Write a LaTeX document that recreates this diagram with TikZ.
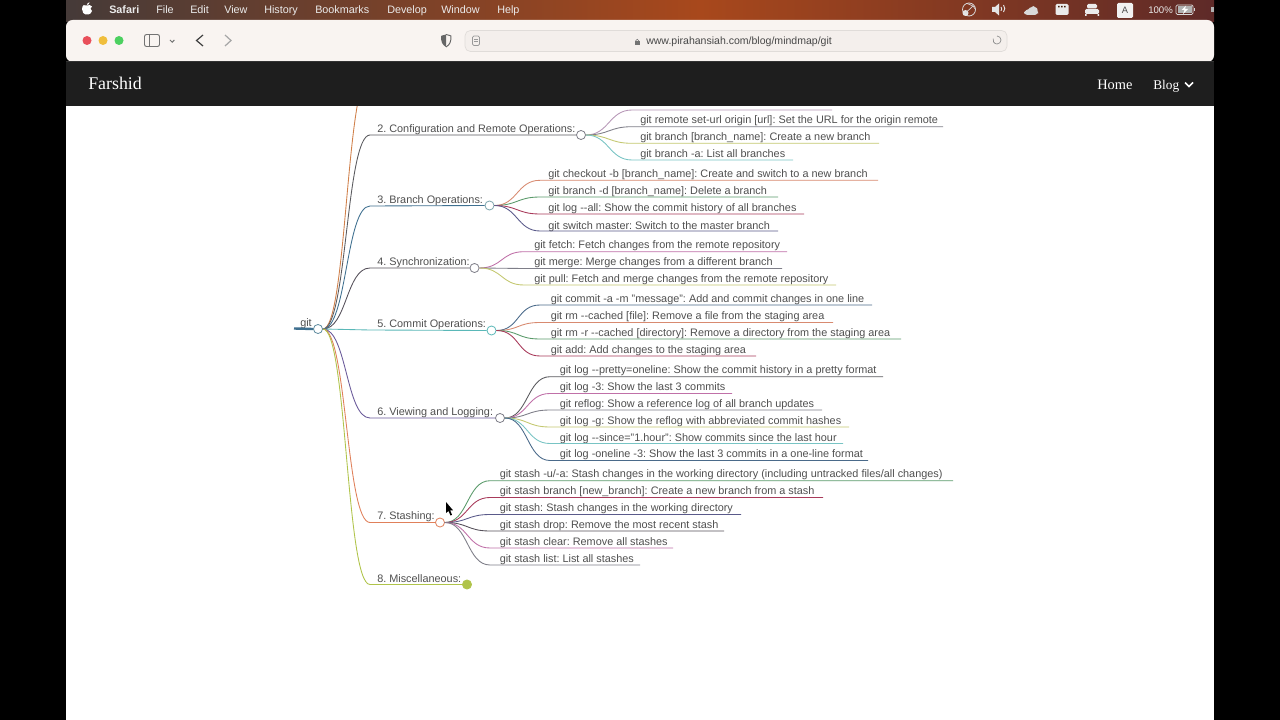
\documentclass[tikz,border=0pt]{standalone}
\usepackage{fontspec}
\setmainfont{Liberation Sans}
\newfontfamily\serifface{Liberation Serif}
\definecolor{textgray}{HTML}{505050}
\definecolor{navdark}{HTML}{1E1E1E}
\definecolor{chrome}{HTML}{F9F4F1}
\definecolor{barA}{HTML}{453A38}
\definecolor{barB}{HTML}{A8481C}
\definecolor{barC}{HTML}{5E2A28}
\definecolor{cA}{HTML}{5A5A5E}
\definecolor{cB}{HTML}{3F7090}
\definecolor{cC}{HTML}{55505A}
\definecolor{cD}{HTML}{5AB8B8}
\definecolor{cE}{HTML}{6A5A9A}
\definecolor{cF}{HTML}{E0805A}
\definecolor{cG}{HTML}{B0C44A}
\definecolor{cH}{HTML}{D0804A}
\definecolor{mauve}{HTML}{B898B8}
\definecolor{graya}{HTML}{7E7E88}
\definecolor{olive}{HTML}{C4C870}
\definecolor{teal}{HTML}{78C4C4}
\definecolor{salmon}{HTML}{D88A70}
\definecolor{leafgreen}{HTML}{5A9A6A}
\definecolor{crimson}{HTML}{A83A5A}
\definecolor{slate}{HTML}{5A5A8A}
\definecolor{pinkish}{HTML}{C070A8}
\definecolor{steel}{HTML}{4A6A8A}
\definecolor{ringblue}{HTML}{5F8CA0}
\definecolor{ringteal}{HTML}{7AA4AC}
\definecolor{lightred}{HTML}{E94F5A}
\definecolor{lightamber}{HTML}{F0BE3C}
\definecolor{lightgreen}{HTML}{4CD060}
\tikzset{
  maptext/.style={anchor=base west,inner sep=0pt,text=textgray,font=\fontsize{8.15pt}{10pt}\selectfont},
  menutext/.style={anchor=base west,inner sep=0pt,text=white!92!black,font=\fontsize{8.1pt}{10pt}\selectfont},
  navtext/.style={anchor=base west,inner sep=0pt,text=white,font=\serifface\fontsize{10.8pt}{13pt}\selectfont},
  hub/.style={circle,draw=#1,fill=white,line width=0.6pt,minimum size=6.8pt,inner sep=0pt},
  link/.style={draw=#1,line width=0.65pt}
}
\begin{document}
\frenchspacing
\begin{tikzpicture}[x=0.75pt,y=0.75pt,yscale=-1,xscale=1]
\useasboundingbox (0,0) rectangle (1280,720);
\fill[black] (0,0) rectangle (1280,720);
\fill[white] (66,106) rectangle (1214,720);

% Hubs
\node (root) at (318,329) [hub=ringblue] {};
\node (nA) at (581,135) [hub=graya] {};
\node (nB) at (489.5,205.5) [hub=ringteal] {};
\node (nC) at (474.5,268) [hub=graya] {};
\node (nD) at (491.5,330.5) [hub=cD] {};
\node (nE) at (500,418) [hub=graya] {};
\node (nF) at (440,522.5) [hub=cF] {};
\node (nG) at (467,584.5) [hub=cG,fill=cG] {};

% Text Node
\draw (300,326) node (rootlbl) [maptext] {git};
\draw (377,133) node (tA) [maptext] {2. Configuration and Remote Operations:};
\draw (377,203.5) node (tB) [maptext] {3. Branch Operations:};
\draw (377,265) node (tC) [maptext] {4. Synchronization:};
\draw (377,327) node (tD) [maptext] {5. Commit Operations:};
\draw (377,415) node (tE) [maptext] {6. Viewing and Logging:};
\draw (377,519) node (tF) [maptext] {7. Stashing:};
\draw (377,582) node (tG) [maptext] {8. Miscellaneous:};

% Text Node
\draw (640,124) node (a2) [maptext] {git remote set-url origin [url]: Set the URL for the origin remote};
\draw (640,141) node (a3) [maptext] {git branch [branch\_name]: Create a new branch};
\draw (640,158) node (a4) [maptext] {git branch -a: List all branches};
\draw (548,178) node (b1) [maptext] {git checkout -b [branch\_name]: Create and switch to a new branch};
\draw (548,195) node (b2) [maptext] {git branch -d [branch\_name]: Delete a branch};
\draw (548,212) node (b3) [maptext] {git log -{}-all: Show the commit history of all branches};
\draw (548,229) node (b4) [maptext] {git switch master: Switch to the master branch};
\draw (534,248) node (c1) [maptext] {git fetch: Fetch changes from the remote repository};
\draw (534,265) node (c2) [maptext] {git merge: Merge changes from a different branch};
\draw (534,282) node (c3) [maptext] {git pull: Fetch and merge changes from the remote repository};
\draw (550.5,302) node (d1) [maptext] {git commit -a -m "message": Add and commit changes in one line};
\draw (550.5,319) node (d2) [maptext] {git rm -{}-cached [file]: Remove a file from the staging area};
\draw (550.5,336) node (d3) [maptext] {git rm -r -{}-cached [directory]: Remove a directory from the staging area};
\draw (550.5,353) node (d4) [maptext] {git add: Add changes to the staging area};
\draw (559.5,373) node (e1) [maptext] {git log -{}-pretty=oneline: Show the commit history in a pretty format};
\draw (559.5,390) node (e2) [maptext] {git log -3: Show the last 3 commits};
\draw (559.5,407) node (e3) [maptext] {git reflog: Show a reference log of all branch updates};
\draw (559.5,424) node (e4) [maptext] {git log -g: Show the reflog with abbreviated commit hashes};
\draw (559.5,441) node (e5) [maptext] {git log -{}-since="1.hour": Show commits since the last hour};
\draw (559.5,457.5) node (e6) [maptext] {git log -oneline -3: Show the last 3 commits in a one-line format};
\draw (499.5,477.5) node (f1) [maptext] {git stash -u/-a: Stash changes in the working directory (including untracked files/all changes)};
\draw (499.5,494.5) node (f2) [maptext] {git stash branch [new\_branch]: Create a new branch from a stash};
\draw (499.5,511) node (f3) [maptext] {git stash: Stash changes in the working directory};
\draw (499.5,528) node (f4) [maptext] {git stash drop: Remove the most recent stash};
\draw (499.5,545) node (f5) [maptext] {git stash clear: Remove all stashes};
\draw (499.5,562) node (f6) [maptext] {git stash list: List all stashes};

% Line ends
\coordinate (g1s) at (370,74);
\coordinate (gAs) at (370,135);
\coordinate (gBs) at (370,206);
\coordinate (gCs) at (370,268);
\coordinate (gDs) at (370,330);
\coordinate (gEs) at (370,418);
\coordinate (gFs) at (370,522.5);
\coordinate (gGs) at (370,584.5);
\coordinate (a1s) at (632,110);   \coordinate (a1e) at (832,110);
\coordinate (a2s) at (632,126.7); \coordinate (a2e) at (943,126.7);
\coordinate (a3s) at (632,143.3); \coordinate (a3e) at (879,143.3);
\coordinate (a4s) at (632,160);   \coordinate (a4e) at (793,160);
\coordinate (b1s) at (540,180.3); \coordinate (b1e) at (878,180.3);
\coordinate (b2s) at (540,197);   \coordinate (b2e) at (778,197);
\coordinate (b3s) at (540,214);   \coordinate (b3e) at (804,214);
\coordinate (b4s) at (540,231);   \coordinate (b4e) at (778,231);
\coordinate (c1s) at (524,251.7); \coordinate (c1e) at (787,251.7);
\coordinate (c2s) at (524,268.5); \coordinate (c2e) at (782,268.5);
\coordinate (c3s) at (524,285);   \coordinate (c3e) at (836,285);
\coordinate (d1s) at (540,305);   \coordinate (d1e) at (872,305);
\coordinate (d2s) at (540,322.5); \coordinate (d2e) at (833,322.5);
\coordinate (d3s) at (540,339);   \coordinate (d3e) at (901,339);
\coordinate (d4s) at (540,356);   \coordinate (d4e) at (756,356);
\coordinate (e1s) at (550,376.7); \coordinate (e1e) at (883,376.7);
\coordinate (e2s) at (550,393.5); \coordinate (e2e) at (732,393.5);
\coordinate (e3s) at (550,410);   \coordinate (e3e) at (822,410);
\coordinate (e4s) at (550,427);   \coordinate (e4e) at (849,427);
\coordinate (e5s) at (550,443.5); \coordinate (e5e) at (843,443.5);
\coordinate (e6s) at (550,460.5); \coordinate (e6e) at (868,460.5);
\coordinate (f1s) at (490,480.7); \coordinate (f1e) at (953,480.7);
\coordinate (f2s) at (490,497.5); \coordinate (f2e) at (823,497.5);
\coordinate (f3s) at (490,514.5); \coordinate (f3e) at (741,514.5);
\coordinate (f4s) at (490,531);   \coordinate (f4e) at (724,531);
\coordinate (f5s) at (490,548);   \coordinate (f5e) at (673,548);
\coordinate (f6s) at (490,565);   \coordinate (f6e) at (640,565);
\coordinate (rootin) at (294,328.5);

% Connection
\draw [cB,line width=1.8pt] (rootin) -- (root.west);
\draw [link=cH] (root.east) .. controls +(24,0) and +(-24,0) .. (g1s);
\draw [link=cA] (root.east) .. controls +(24,0) and +(-24,0) .. (gAs) -- (nA.west);
\draw [link=cB] (root.east) .. controls +(24,0) and +(-24,0) .. (gBs) -- (nB.west);
\draw [link=cC] (root.east) .. controls +(24,0) and +(-24,0) .. (gCs) -- (nC.west);
\draw [link=cD] (root.east) .. controls +(24,0) and +(-24,0) .. (gDs) -- (nD.west);
\draw [link=cE] (root.east) .. controls +(24,0) and +(-24,0) .. (gEs) -- (nE.west);
\draw [link=cF] (root.east) .. controls +(24,0) and +(-24,0) .. (gFs) -- (nF.west);
\draw [link=cG] (root.east) .. controls +(24,0) and +(-24,0) .. (gGs) -- (nG.west);
% Connection
\draw [link=mauve] (nA.east) .. controls +(23,0) and +(-23,0) .. (a1s) -- (a1e);
\draw [link=graya] (nA.east) .. controls +(23,0) and +(-23,0) .. (a2s) -- (a2e);
\draw [link=olive] (nA.east) .. controls +(23,0) and +(-23,0) .. (a3s) -- (a3e);
\draw [link=teal] (nA.east) .. controls +(23,0) and +(-23,0) .. (a4s) -- (a4e);
\draw [link=salmon] (nB.east) .. controls +(23,0) and +(-23,0) .. (b1s) -- (b1e);
\draw [link=leafgreen] (nB.east) .. controls +(23,0) and +(-23,0) .. (b2s) -- (b2e);
\draw [link=crimson] (nB.east) .. controls +(23,0) and +(-23,0) .. (b3s) -- (b3e);
\draw [link=slate] (nB.east) .. controls +(23,0) and +(-23,0) .. (b4s) -- (b4e);
\draw [link=pinkish] (nC.east) .. controls +(23,0) and +(-23,0) .. (c1s) -- (c1e);
\draw [link=graya] (nC.east) .. controls +(23,0) and +(-23,0) .. (c2s) -- (c2e);
\draw [link=olive] (nC.east) .. controls +(23,0) and +(-23,0) .. (c3s) -- (c3e);
\draw [link=steel] (nD.east) .. controls +(23,0) and +(-23,0) .. (d1s) -- (d1e);
\draw [link=salmon] (nD.east) .. controls +(23,0) and +(-23,0) .. (d2s) -- (d2e);
\draw [link=leafgreen] (nD.east) .. controls +(23,0) and +(-23,0) .. (d3s) -- (d3e);
\draw [link=crimson] (nD.east) .. controls +(23,0) and +(-23,0) .. (d4s) -- (d4e);
\draw [link=cA] (nE.east) .. controls +(23,0) and +(-23,0) .. (e1s) -- (e1e);
\draw [link=pinkish] (nE.east) .. controls +(23,0) and +(-23,0) .. (e2s) -- (e2e);
\draw [link=graya] (nE.east) .. controls +(23,0) and +(-23,0) .. (e3s) -- (e3e);
\draw [link=olive] (nE.east) .. controls +(23,0) and +(-23,0) .. (e4s) -- (e4e);
\draw [link=teal] (nE.east) .. controls +(23,0) and +(-23,0) .. (e5s) -- (e5e);
\draw [link=steel] (nE.east) .. controls +(23,0) and +(-23,0) .. (e6s) -- (e6e);
\draw [link=leafgreen] (nF.east) .. controls +(23,0) and +(-23,0) .. (f1s) -- (f1e);
\draw [link=crimson] (nF.east) .. controls +(23,0) and +(-23,0) .. (f2s) -- (f2e);
\draw [link=slate] (nF.east) .. controls +(23,0) and +(-23,0) .. (f3s) -- (f3e);
\draw [link=cC] (nF.east) .. controls +(23,0) and +(-23,0) .. (f4s) -- (f4e);
\draw [link=pinkish] (nF.east) .. controls +(23,0) and +(-23,0) .. (f5s) -- (f5e);
\draw [link=graya] (nF.east) .. controls +(23,0) and +(-23,0) .. (f6s) -- (f6e);

% Pointer
\fill [black] (446,502) -- (446,513) -- (448.5,511) -- (450.5,515.5) -- (452,514.8) -- (450.2,510.5) -- (453,510.3) -- cycle;

% Window top
\fill [navdark] (66,62) rectangle (1214,106);
\shade [left color=barA,right color=barB] (66,0) rectangle (700,22);
\shade [left color=barB,right color=barC] (700,0) rectangle (1214,22);
\fill [chrome,rounded corners=5] (66,62) -- (66,20) -- (1214,20) -- (1214,62) -- cycle;
\draw [black!80,line width=0.6pt] (66,61.5) -- (1214,61.5);

% Menu bar
\draw (109,14) node (safari) [menutext,font=\bfseries\fontsize{8.1pt}{10pt}\selectfont] {Safari};
\draw (156,14) node (mfile) [menutext] {File};
\draw (190,14) node (medit) [menutext] {Edit};
\draw (224,14) node (mview) [menutext] {View};
\draw (264,14) node (mhist) [menutext] {History};
\draw (315,14) node (mbook) [menutext] {Bookmarks};
\draw (387,14) node (mdev) [menutext] {Develop};
\draw (441,14) node (mwin) [menutext] {Window};
\draw (497,14) node (mhelp) [menutext] {Help};
\draw (1148,13.5) node (mpct) [menutext,font=\fontsize{7.2pt}{9pt}\selectfont] {100\%};
% Apple
\fill [white] (87,5.5) .. controls (85,4) and (82,5) .. (82,9) .. controls (82,12) and (84,14.5) .. (85.5,14.5) .. controls (86.5,14.5) and (87.5,14) .. (88.5,14.5) .. controls (90,14.5) and (91.5,12.5) .. (92,11) .. controls (90,10) and (90,7) .. (92,6.5) .. controls (91,5) and (88.5,4.5) .. (87,5.5) -- cycle;
\fill [white] (87,5) .. controls (87,3.5) and (88,2.5) .. (89.5,2.3) .. controls (89.5,3.8) and (88.5,4.8) .. (87,5) -- cycle;
% Status icons
\draw [white!85!black,line width=0.6pt] (969,9.5) circle (6.5);
\fill [white!90!black] (965.5,13) circle (3);
\draw [white!85!black,line width=0.5pt] (965.5,13) -- (973,6) -- (975.5,9.5) (973,6) -- (967,3.5);
\fill [white!90!black] (992,7) rectangle (995,12) (995,7) -- (999,3.5) -- (999,15.5) -- (995,12) -- cycle;
\draw [white!90!black,line width=0.7pt] (1001,7) arc (-40:40:3) (1003.5,5) arc (-40:40:5.5);
\fill [white!85!black,rounded corners=2.5] (1024,15) -- (1024,10.5) -- (1029,10) -- (1031,6) -- (1036,6.5) -- (1038,10.5) -- (1038,15) -- cycle;
\fill [white!92!black,rounded corners=1] (1055.5,4) rectangle (1068.5,15);
\fill [barB!40!black] (1058,6) rectangle (1059.5,7.5) (1061,6) rectangle (1062.5,7.5) (1064,6) rectangle (1065.5,7.5);
\fill [white!92!black,rounded corners=1] (1085,9) rectangle (1099,14);
\fill [white!92!black,rounded corners=1] (1087,4) rectangle (1097,8.4);
\fill [white!92!black] (1085,14) rectangle (1086.5,16) (1097.5,14) rectangle (1099,16);
\fill [white!95!black,rounded corners=1] (1117,3) rectangle (1133,18);
\node (akey) at (1125,10.5) [inner sep=0pt,text=black!70,font=\fontsize{7pt}{8pt}\selectfont] {A};
\draw [white!85!black,line width=0.6pt,rounded corners=1] (1176,5) rectangle (1193,14.5);
\fill [white!70!black] (1177.5,6.5) rectangle (1191.5,13);
\fill [white] (1186,5.5) -- (1181.5,10) -- (1184.5,10) -- (1183,14) -- (1188,9) -- (1185,9) -- cycle;
\fill [white!85!black] (1193.5,8) rectangle (1195,11.5);
\fill [white!70!black] (1211,7) rectangle (1214,12);

% Toolbar
\fill [lightred] (87,40.5) circle (4.5);
\fill [lightamber] (103,40.5) circle (4.5);
\fill [lightgreen] (119,40.5) circle (4.5);
\draw [black!55,line width=0.7pt,rounded corners=1.5] (144.5,34.5) rectangle (159.5,46.5);
\draw [black!55,line width=0.7pt] (149,34.5) -- (149,46.5);
\draw [black!55,line width=0.7pt] (170,40) -- (172.2,42.2) -- (174.4,40);
\draw [black!75,line width=0.9pt] (203,35) -- (196.5,40.5) -- (203,46);
\draw [black!35,line width=0.9pt] (225,35) -- (231,40.5) -- (225,46);
\filldraw [fill=chrome!98!black,draw=chrome!90!black,line width=0.5pt,rounded corners=4] (465,30.5) rectangle (1007,51.5);
\fill [black!60] (446,34.5) .. controls (443,35.5) and (441,35.5) .. (441,36) .. controls (441,42) and (442,44.5) .. (446,47) -- cycle;
\draw [black!60,line width=0.7pt] (446,34.5) .. controls (449,35.5) and (451,35.5) .. (451,36) .. controls (451,42) and (450,44.5) .. (446,47);
\draw [black!40,line width=0.6pt,rounded corners=1] (472.5,36) rectangle (479.5,45.5);
\draw [black!40,line width=0.4pt] (474,39) -- (478,39) (474,41) -- (478,41);
\fill [black!55] (634.5,41) rectangle (640,45.5);
\draw [black!55,line width=0.5pt] (635.5,41) arc (180:360:1.75);
\draw (646,45) node (url) [maptext,text=black!72,font=\fontsize{7.9pt}{10pt}\selectfont] {www.pirahansiah.com/blog/mindmap/git};
\draw [black!45,line width=0.5pt] (997,36) arc (-90:200:4);

% Nav bar
\draw (88,90) node (brand) [navtext,font=\serifface\fontsize{13.4pt}{15pt}\selectfont] {Farshid};
\draw (1097,90) node (home) [navtext] {Home};
\draw (1153,90) node (blog) [navtext,font=\serifface\fontsize{10pt}{13pt}\selectfont] {Blog};
\draw [white,line width=1.1pt] (1185,82.5) -- (1189,86.5) -- (1193,82.5);
\end{tikzpicture}
\end{document}
